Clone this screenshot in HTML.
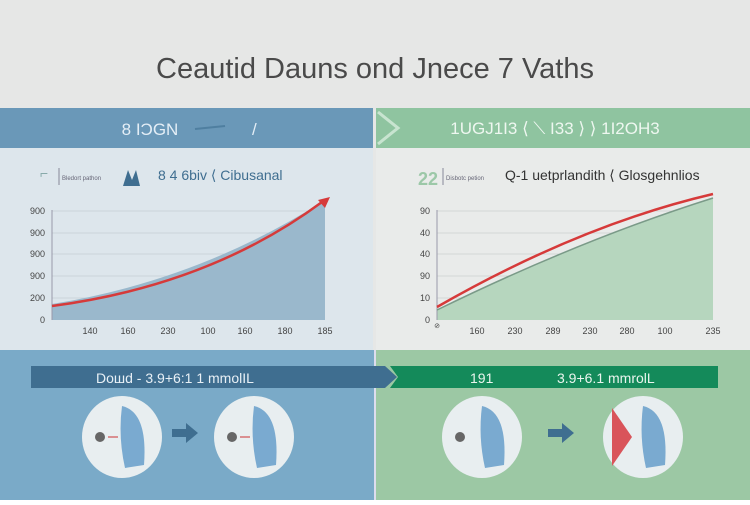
<!DOCTYPE html>
<html><head><meta charset="utf-8"><style>
body{margin:0;width:750px;height:500px;overflow:hidden;font-family:"Liberation Sans",sans-serif}
</style></head><body>
<svg width="750" height="500" viewBox="0 0 750 500" xmlns="http://www.w3.org/2000/svg" font-family="Liberation Sans, sans-serif">
<rect width="750" height="500" fill="#e6e7e6"/>
<text x="375" y="78" text-anchor="middle" font-size="29" fill="#4a4a4a">Ceautid Dauns ond Jnece 7 Vaths</text>
<!-- headers -->
<rect x="0" y="108" width="373" height="40" fill="#6a98b8"/>
<rect x="376" y="108" width="374" height="40" fill="#8fc4a0"/>
<path d="M378 112 L398 128 L378 144" fill="none" stroke="#c8e4d0" stroke-width="3"/>
<text x="150" y="135" text-anchor="middle" font-size="17" fill="#e4eef6">8 IϽGN</text>
<line x1="195" y1="129" x2="225" y2="126" stroke="#4f7fa0" stroke-width="2"/>
<text x="252" y="135" font-size="17" fill="#e4eef6">/</text>
<text x="555" y="134" text-anchor="middle" font-size="17" fill="#eef7f0">1UGJ1I3 ⟨ ⟍ I33 ⟩ ⟩ 1I2OH3</text>
<!-- chart panels -->
<rect x="0" y="148" width="373" height="202" fill="#dde6ec"/>
<rect x="376" y="148" width="374" height="202" fill="#e9ebea"/>
<!-- left chart -->
<text x="40" y="178" font-size="14" fill="#8aa">⌐</text>
<line x1="59" y1="168" x2="59" y2="185" stroke="#889"/>
<text x="62" y="180" font-size="6" fill="#667">Bledort pathon</text>
<path d="M123 186 L128 170 L132 180 L136 170 L140 186Z" fill="#3f6e90"/>
<text x="158" y="180" font-size="14" fill="#3f6e90">8 4  6biv  ⟨  Cibusanal</text>
<g stroke="#cbd4da" stroke-width="1">
<line x1="52" y1="211" x2="325" y2="211"/><line x1="52" y1="233" x2="325" y2="233"/><line x1="52" y1="254" x2="325" y2="254"/><line x1="52" y1="276" x2="325" y2="276"/><line x1="52" y1="298" x2="325" y2="298"/></g>
<path d="M52 304 Q200 280 325 200 L325 320 L52 320Z" fill="#9ab8cc"/>
<line x1="52" y1="210" x2="52" y2="320" stroke="#99a"/>
<path d="M52 306 Q210 285 322 202" fill="none" stroke="#d63a3a" stroke-width="2.5"/>
<path d="M330 197 L318 200 L325 208Z" fill="#d63a3a"/>
<g font-size="9" fill="#444" text-anchor="end">
<text x="45" y="214">900</text><text x="45" y="236">900</text><text x="45" y="257">900</text><text x="45" y="279">900</text><text x="45" y="301">200</text><text x="45" y="323">0</text></g>
<g font-size="9" fill="#444" text-anchor="middle">
<text x="90" y="334">140</text><text x="128" y="334">160</text><text x="168" y="334">230</text><text x="208" y="334">100</text><text x="245" y="334">160</text><text x="285" y="334">180</text><text x="325" y="334">185</text></g>
<!-- right chart -->
<text x="418" y="185" font-size="18" fill="#9cc8a8" font-weight="bold">22</text>
<line x1="443" y1="168" x2="443" y2="185" stroke="#889"/>
<text x="446" y="180" font-size="6" fill="#667">Disbotc petion</text>
<text x="505" y="180" font-size="14" fill="#333">Q-1 uetprlandith ⟨ Glosgehnlios</text>
<g stroke="#d4d7d6" stroke-width="1">
<line x1="437" y1="211" x2="713" y2="211"/><line x1="437" y1="233" x2="713" y2="233"/><line x1="437" y1="254" x2="713" y2="254"/><line x1="437" y1="276" x2="713" y2="276"/><line x1="437" y1="298" x2="713" y2="298"/></g>
<path d="M437 310 Q580 240 713 198 L713 320 L437 320Z" fill="#b6d6be"/>
<line x1="437" y1="210" x2="437" y2="320" stroke="#99a"/>
<path d="M437 310 Q580 240 713 198" fill="none" stroke="#7a9a88" stroke-width="1.5"/>
<path d="M437 307 Q580 225 713 194" fill="none" stroke="#d63a3a" stroke-width="2.5"/>
<g font-size="9" fill="#444" text-anchor="end">
<text x="430" y="214">90</text><text x="430" y="236">40</text><text x="430" y="257">40</text><text x="430" y="279">90</text><text x="430" y="301">10</text><text x="430" y="323">0</text></g>
<g font-size="9" fill="#444" text-anchor="middle">
<text x="437" y="328" font-size="7">⊘</text>
<text x="477" y="334">160</text><text x="515" y="334">230</text><text x="553" y="334">289</text><text x="590" y="334">230</text><text x="627" y="334">280</text><text x="665" y="334">100</text><text x="713" y="334">235</text></g>
<!-- bottom -->
<rect x="0" y="350" width="375" height="150" fill="#7aaac8"/>
<rect x="375" y="350" width="375" height="150" fill="#9cc8a4"/>
<path d="M375 350 L375 500" stroke="#dde" stroke-width="2"/>
<path d="M31 366 L385 366 L397 377 L385 388 L31 388Z" fill="#3f6e90"/>
<path d="M390 366 L718 366 L718 388 L390 388 L398 377Z" fill="#148a5a"/>
<text x="96" y="383" font-size="14" fill="#e8f0f6">Doшd - 3.9+6:1 1 mmolIL</text>
<text x="470" y="383" font-size="14" fill="#eaf5ee">191</text>
<text x="557" y="383" font-size="14" fill="#eaf5ee">3.9+6.1 mmrolL</text>
<g>
<ellipse cx="122" cy="437" rx="40" ry="41" fill="#e8eef0"/>
<path d="M122 406 Q148 412 144 465 L125 468 Q118 437 122 406Z" fill="#7aaad0"/>
<circle cx="100" cy="437" r="5" fill="#666"/><line x1="108" y1="437" x2="118" y2="437" stroke="#c33"/>
<ellipse cx="254" cy="437" rx="40" ry="41" fill="#e8eef0"/>
<path d="M254 406 Q280 412 276 465 L257 468 Q250 437 254 406Z" fill="#7aaad0"/>
<circle cx="232" cy="437" r="5" fill="#666"/><line x1="240" y1="437" x2="250" y2="437" stroke="#c33"/>
<path d="M172 429 L186 429 L186 423 L198 433 L186 443 L186 437 L172 437Z" fill="#3f6e90"/>
<ellipse cx="482" cy="437" rx="40" ry="41" fill="#e8eef0"/>
<path d="M482 406 Q508 412 504 465 L485 468 Q478 437 482 406Z" fill="#7aaad0"/>
<circle cx="460" cy="437" r="5" fill="#666"/>
<ellipse cx="643" cy="437" rx="40" ry="41" fill="#e8eef0"/>
<path d="M643 406 Q669 412 665 465 L646 468 Q639 437 643 406Z" fill="#7aaad0"/>
<path d="M612 408 L632 437 L612 466Z" fill="#d9545a"/>
<path d="M548 429 L562 429 L562 423 L574 433 L562 443 L562 437 L548 437Z" fill="#3f6e90"/>
</g>
</svg>
</body></html>
